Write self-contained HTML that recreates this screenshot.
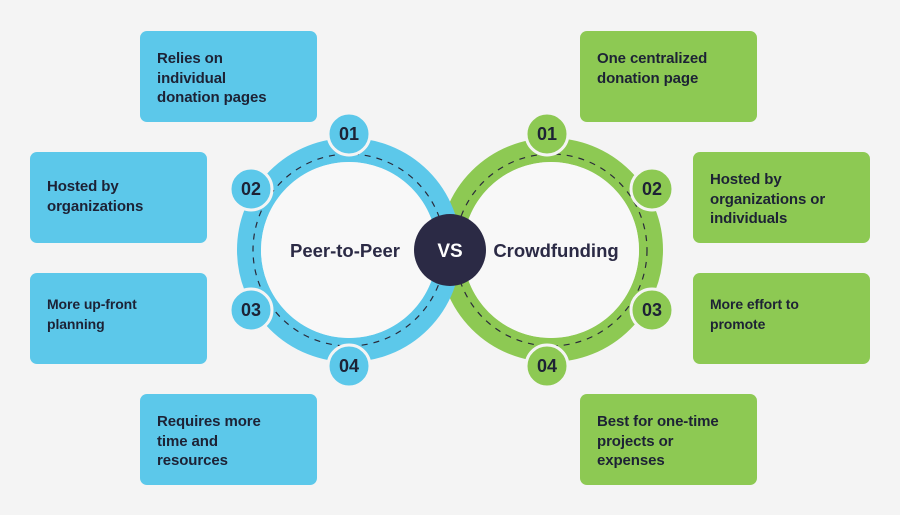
<!DOCTYPE html>
<html><head><meta charset="utf-8"><style>
html,body{margin:0;padding:0;background:#f4f4f4;}
body{width:900px;height:515px;position:relative;overflow:hidden;font-family:"Liberation Sans",sans-serif;}
.b{position:absolute;width:177px;height:91px;border-radius:7px;box-sizing:border-box;padding:18px 10px 0 17px;font-size:15px;line-height:19.5px;font-weight:bold;color:#1d2235;letter-spacing:-0.1px}
.bl{background:#5cc8ea}.gr{background:#8dc953}
svg{position:absolute;left:0;top:0}
</style></head><body>
<svg width="900" height="515">
<circle cx="551" cy="250" r="100" fill="none" stroke="#8dc953" stroke-width="24"/>
<circle cx="349" cy="250" r="100" fill="none" stroke="#5cc8ea" stroke-width="24"/>
<circle cx="349" cy="250" r="88" fill="#f8f8f8"/>
<circle cx="551" cy="250" r="88" fill="#f8f8f8"/>
<circle cx="349" cy="250" r="96" fill="none" stroke="#2a2a3a" stroke-width="1.2" stroke-dasharray="6 6"/>
<circle cx="551" cy="250" r="96" fill="none" stroke="#2a2a3a" stroke-width="1.2" stroke-dasharray="6 6"/>
<g stroke="#f4f4f4" stroke-width="3">
<circle cx="349" cy="134" r="21" fill="#5cc8ea"/>
<circle cx="251" cy="189" r="21" fill="#5cc8ea"/>
<circle cx="251" cy="310" r="21" fill="#5cc8ea"/>
<circle cx="349" cy="366" r="21" fill="#5cc8ea"/>
<circle cx="547" cy="134" r="21" fill="#8dc953"/>
<circle cx="652" cy="189" r="21" fill="#8dc953"/>
<circle cx="652" cy="310" r="21" fill="#8dc953"/>
<circle cx="547" cy="366" r="21" fill="#8dc953"/>
</g>
<g font-family="Liberation Sans, sans-serif" font-weight="bold" font-size="18" fill="#1d2235" text-anchor="middle">
<text x="349" y="140">01</text><text x="251" y="195">02</text><text x="251" y="316">03</text><text x="349" y="372">04</text>
<text x="547" y="140">01</text><text x="652" y="195">02</text><text x="652" y="316">03</text><text x="547" y="372">04</text>
</g>
<circle cx="450" cy="250" r="36" fill="#2b2a45"/>
<text x="450" y="257" font-family="Liberation Sans, sans-serif" font-weight="bold" font-size="19" fill="#fff" text-anchor="middle">VS</text>
<text x="345" y="257" font-family="Liberation Sans, sans-serif" font-weight="bold" font-size="18.5" fill="#2b2a45" text-anchor="middle">Peer-to-Peer</text>
<text x="556" y="257" font-family="Liberation Sans, sans-serif" font-weight="bold" font-size="18.5" fill="#2b2a45" text-anchor="middle">Crowdfunding</text>
</svg>
<div class="b bl" style="left:140px;top:31px">Relies on<br>individual<br>donation pages</div>
<div class="b bl" style="left:30px;top:152px;padding-top:25px">Hosted by<br>organizations</div>
<div class="b bl" style="left:30px;top:273px;padding-top:22px;font-size:14px">More up-front<br>planning</div>
<div class="b bl" style="left:140px;top:394px">Requires more<br>time and<br>resources</div>
<div class="b gr" style="left:580px;top:31px">One centralized<br>donation page</div>
<div class="b gr" style="left:693px;top:152px">Hosted by<br>organizations or<br>individuals</div>
<div class="b gr" style="left:693px;top:273px;padding-top:22px;font-size:14px">More effort to<br>promote</div>
<div class="b gr" style="left:580px;top:394px">Best for one-time<br>projects or<br>expenses</div>
</body></html>
